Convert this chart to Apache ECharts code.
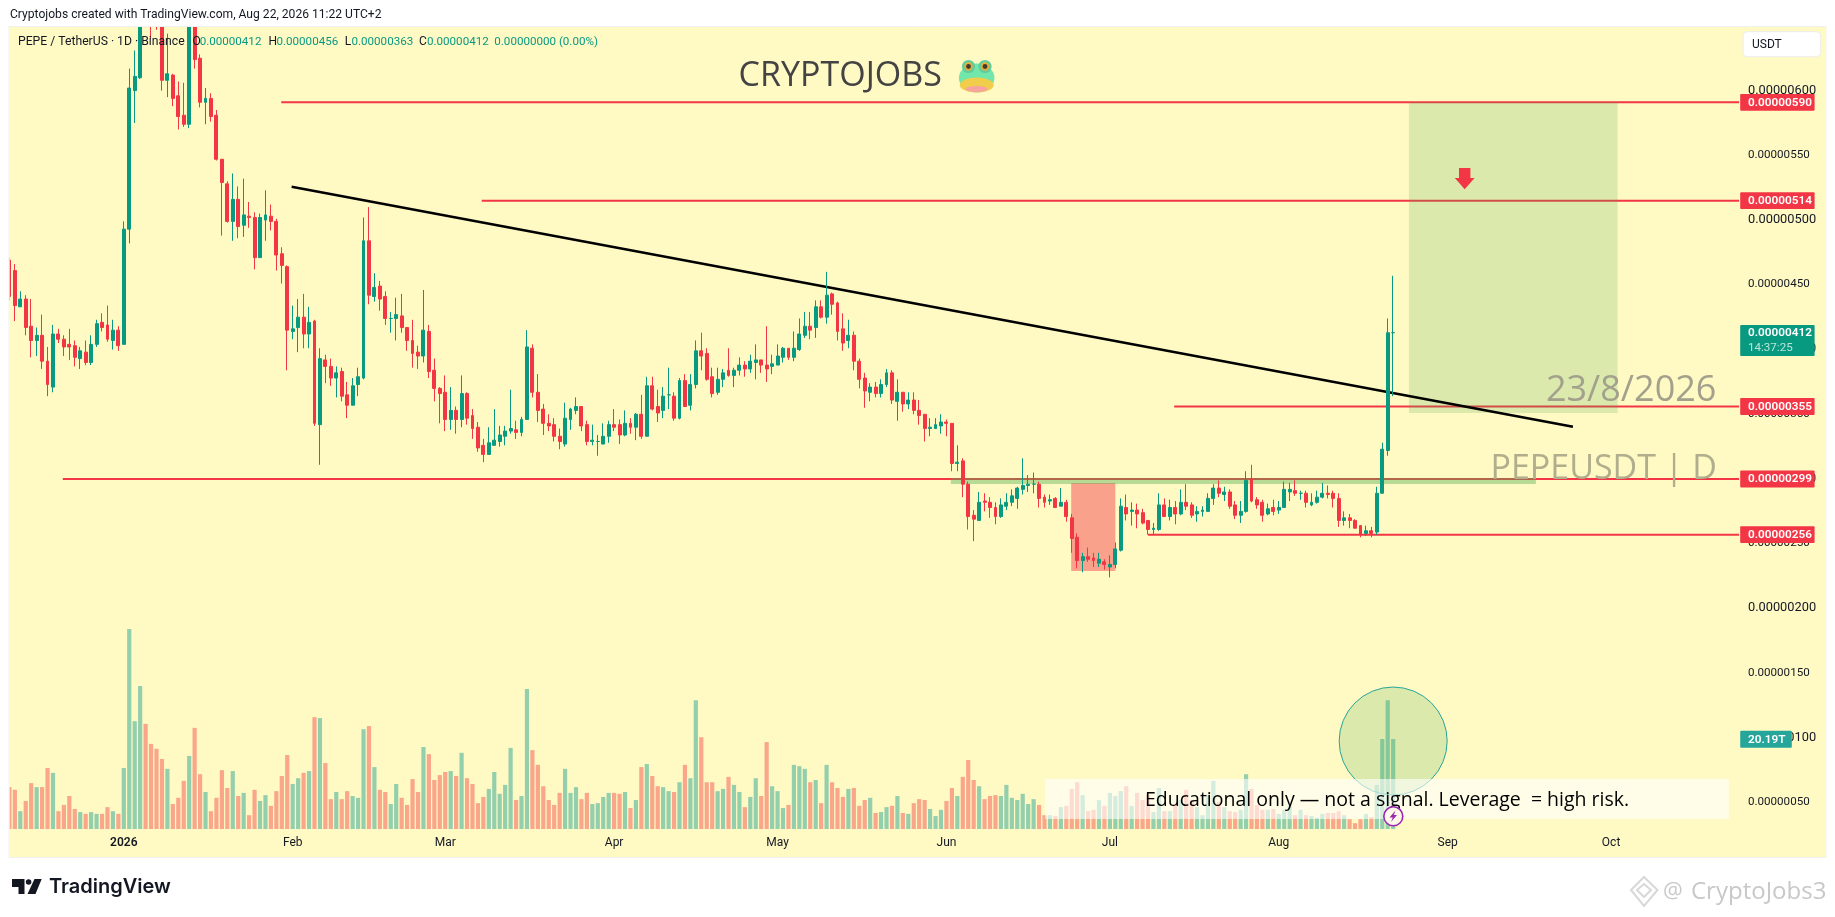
<!DOCTYPE html>
<html><head><meta charset="utf-8">
<script src="https://cdn.jsdelivr.net/npm/echarts@6/dist/echarts.min.js"></script>
<style>html,body{margin:0;padding:0;background:#fff}#c{width:1835px;height:917px}</style>
</head><body><div id="c"></div>
<script>
// Prices are in units of 0.00000001 USDT. First candle = 11 Dec 2025.
const candles = [ // [open, close, low, high]
[468,440,437,470],[460,433,421,465],[432,438,432,444],[438,416,410,441],[417,406,393,438],[406,410,394,416],[410,390,384,426],[390,372,363,401],[370,411,366,418],[411,407,404,415],[407,401,394,410],[403,401,391,415],[402,393,386,406],[392,398,384,401],[397,389,387,406],[389,403,387,410],[403,419,401,422],[420,416,413,427],[418,407,405,433],[406,414,399,422],[414,402,398,417],
[403,492,403,498],[492,601,481,616],[599,610,574,630],[609,660,608,670],[690,665,650,700],[680,655,639,690],[670,655,646,680],[665,607,599,668],[607,612,594,643],[611,593,587,612],[595,579,569,606],[580,573,571,605],[573,665,570,680],[660,623,616,670],[624,590,586,627],[590,593,573,601],[593,579,575,597],[580,546,545,584],[546,528,487,546],[527,498,497,529],[498,515,483,535],[515,494,485,525],[495,503,486,531],[502,501,493,513],[501,470,461,505],
[470,501,470,504],[499,503,483,522],[502,498,491,511],[498,472,460,500],[473,464,450,478],[463,414,383,464],[413,415,407,433],[416,424,397,438],[424,411,400,442],[411,420,400,432],[421,342,340,422],[341,392,310,400],[391,386,373,395],[386,377,371,392],[377,381,362,386],[382,363,359,385],[364,356,346,374],[356,371,356,377],[372,378,363,385],[377,483,376,501],[483,441,434,509],[440,447,436,458],[448,438,429,452],[440,423,418,444],[423,423,412,428],[423,426,406,439],[425,416,412,442],[416,406,398,416],[406,396,385,422],[397,394,384,402],[394,414,389,445],[413,382,377,418],[383,369,359,392],[369,365,342,370],[366,345,336,379],[345,352,337,370],[352,345,334,355],[345,365,339,379],[365,346,341,366],[348,338,330,353],[339,323,320,343],[325,318,312,330],[318,327,318,339],[325,329,325,353],[328,333,324,340],[332,336,325,340],
[336,338,334,368],[337,335,330,344],[335,345,332,347],[345,401,345,414],[400,366,362,403],[366,352,343,380],[353,342,333,357],[342,340,336,349],[341,332,328,346],[332,328,322,338],[326,346,324,358],[345,353,337,354],[352,355,349,362],[355,340,336,355],[341,328,325,344],[328,329,325,341],[328,328,317,333],[326,332,326,342],[332,341,327,344],[341,339,336,353],[341,333,326,345],[333,342,332,352],[342,339,334,346],[339,349,329,350],[349,332,330,364],[332,371,332,378],[371,353,352,378],[355,350,343,368],[352,363,346,370],[364,364,353,385],[363,346,344,366],[346,375,345,377],[375,355,355,380],[356,372,352,380],[372,398,369,406],[398,394,383,412],[396,376,375,400],[378,365,362,385],[366,376,364,385],[376,381,370,384],[383,379,378,400],[379,383,370,385],[383,387,379,393],[387,384,378,390],[384,390,381,395],[389,391,376,403],
[391,387,381,391],[387,384,374,417],[386,388,380,395],[387,394,387,403],[393,400,389,401],[400,393,391,400],[393,400,390,413],[399,411,398,423],[410,417,408,428],[417,414,407,428],[416,432,408,437],[432,424,423,437],[424,441,419,459],[442,434,426,443],[435,413,406,436],[415,404,398,427],[406,410,400,422],[410,390,383,413],[390,376,369,392],[377,367,354,381],[366,370,359,373],[370,365,362,374],[365,372,362,376],[372,381,370,384],[381,360,357,383],[359,366,344,376],[366,357,351,366],[357,360,353,366],[360,352,349,366],[352,348,341,360],[349,338,328,349],[338,339,332,346],[338,341,338,346],[340,343,334,349],[343,342,332,345],[342,311,305,342],[311,312,305,325],[313,295,285,315],[295,270,260,297],[271,268,251,275],[267,281,267,289],[282,281,274,288],[281,277,269,285],[277,270,264,281],[270,279,269,284],[278,281,275,288],[281,286,278,291],[284,292,276,293],
[291,294,287,315],[294,295,289,302],[295,295,288,304],[295,284,277,297],[285,281,277,287],[282,283,279,287],[284,277,277,285],[278,281,278,292],[281,270,266,283],[269,253,242,272],[254,236,230,257],[236,239,227,242],[239,237,235,246],[238,236,231,242],[234,237,231,242],[235,233,229,237],[231,233,223,240],[233,245,230,250],[244,278,243,284],[277,272,267,287],[274,275,263,281],[275,272,261,280],[273,265,264,276],[267,260,256,267],[260,261,256,265],[260,279,259,288],[279,270,270,284],[270,277,267,283],[277,272,264,282],[272,281,271,291],[281,278,275,295],[279,271,269,281],[272,274,266,278],[274,275,270,278],
[274,284,274,288],[284,292,279,295],[292,288,285,298],[287,289,282,293],[289,278,276,291],[279,271,268,282],[271,274,265,282],[274,298,273,305],[299,282,281,310],[283,279,276,285],[281,271,266,283],[272,276,271,280],[277,274,271,283],[275,277,272,282],[277,291,277,297],[289,291,282,296],[290,288,286,298],[288,288,283,290],[288,281,277,290],[279,281,278,288],[281,285,280,290],[285,288,284,296],[288,287,284,294],[288,284,277,290],[284,267,262,288],[267,269,263,274],[269,267,261,272],[267,261,261,268],[263,256,254,263],[257,259,255,263],[259,257,254,262],[258,288,256,293],[288,322,288,327],[321,412,317,423],[412,412,363,456]
];
const volume = [ // trillions of PEPE, one per candle
9.4,8.8,4.0,6.3,10.3,9.4,9.4,13.7,12.6,4.0,5.4,7.4,4.5,3.8,3.4,3.8,3.4,3.4,4.9,4.0,3.4,
13.7,44.9,24.2,32.1,23.6,19.1,18.0,15.7,13.5,5.6,7.0,10.8,16.4,22.7,12.3,8.3,4.0,7.0,13.2,9.2,13.0,7.4,8.1,3.1,8.8,6.3,7.6,5.2,8.5,11.9,16.6,10.1,11.4,12.6,13.0,25.1,24.9,14.8,6.7,8.3,6.7,8.5,7.4,7.0,22.4,23.1,13.9,8.8,8.3,5.6,10.1,7.0,5.4,11.2,8.3,18.4,16.8,11.0,12.1,12.8,13.0,11.9,17.1,11.4,10.1,5.8,7.2,9.0,12.8,7.9,9.9,18.2,6.5,7.4,31.4,17.7,14.4,9.6,6.5,5.4,8.1,13.5,8.1,9.4,6.7,8.1,5.6,5.8,7.2,8.1,8.1,7.9,
8.3,4.7,6.5,13.9,14.6,11.9,9.6,9.4,8.5,8.3,10.5,14.4,11.4,28.9,20.6,10.5,10.5,8.5,9.0,11.7,9.9,8.3,4.9,7.2,11.4,7.4,19.5,9.6,8.5,4.7,5.4,14.4,14.1,13.5,10.5,11.0,5.8,14.4,10.5,9.2,7.2,9.0,9.2,5.2,6.5,7.0,3.6,3.8,4.9,5.2,7.4,3.6,3.4,5.8,6.7,6.5,4.5,2.9,4.3,6.3,9.2,7.4,11.7,15.5,11.0,9.6,6.7,7.4,7.6,7.4,9.9,7.0,6.5,
7.9,5.6,6.7,5.4,3.1,3.1,2.9,4.9,5.2,9.0,10.5,7.6,4.0,4.3,6.5,5.2,8.1,7.4,8.5,9.6,5.2,8.1,6.5,7.6,3.8,9.2,4.0,4.0,5.6,6.5,8.8,6.5,4.9,3.1,7.6,10.8,6.1,4.9,4.0,3.8,4.3,12.3,9.0,5.4,4.3,4.3,4.5,3.4,4.3,5.2,3.1,4.3,3.1,2.9,2.5,3.4,3.6,3.6,4.0,3.1,2.2,1.3,2.2,3.4,2.7,9.9,20.2,28.9,20.19
];
const monthTicks = {0:'2026',31:'Feb',59:'Mar',90:'Apr',120:'May',151:'Jun',181:'Jul',212:'Aug',243:'Sep',273:'Oct'}; // day offset from 1 Jan 2026
const firstDay = -21, lastDay = 312;
const levelLines = [[28.9,590],[65.7,514],[192.8,355],[-11.2,299],[188,256]]; // [start day, price]
const levelEnd = 296.5;
const trendLine = [[30.8,524.8],[266,339.4]];
const priceTags = [[590,'0.00000590'],[514,'0.00000514'],[355,'0.00000355'],[299,'0.00000299'],[256,'0.00000256']];
const lastPrice = [412,'0.00000412','14:37:25'];
const volumeTag = [98,'20.19T']; // drawn at the bar top, on the price scale
const zones = { // [day1, price1, day2, price2, colour]
  salmon:[173.9,296,182,228,'#f9a18b'],
  target:[235.9,590,274.2,350,'rgba(76,175,80,0.2)'],
  band:[151.8,299.8,259.2,295.2,'rgba(76,175,80,0.4)'],
  note:[169.1,67.3,294.6,36.4,'rgba(255,255,255,0.6)']
};
const volumeCircle = [233,96.6];

const UP='#089981', DOWN='#f23645', FONT='Roboto', INK='#131722';
const days=[]; for(let d=firstDay;d<=lastDay;d++) days.push(d);
const cats=days.map(d=>String(d));
const GL=6.68, GR=1835-1826.28;

function zoneSeries(name,z){
  const a=zones[name];
  return {type:'custom',xAxisIndex:2,yAxisIndex:0,z,silent:true,clip:false,data:[a.slice(0,4)],
    renderItem:(p,api)=>{
      const A=api.coord([api.value(0),api.value(1)]),B=api.coord([api.value(2),api.value(3)]);
      return {type:'rect',shape:{x:A[0],y:A[1],width:B[0]-A[0],height:B[1]-A[1]},style:{fill:a[4]}};
    }};
}
const lineSeries=levelLines.map(l=>({type:'line',xAxisIndex:2,yAxisIndex:0,z:2,symbol:'none',silent:true,clip:false,
  lineStyle:{color:DOWN,width:2},data:[[l[0],l[1]],[levelEnd,l[1]]]}));
function tagText(text,x,y,fill,size,w){return {type:'text',style:{text,x,y,fill,font:(w||600)+' '+(size||12)+'px '+FONT,verticalAlign:'middle'}};}

const option={
  animation:false,backgroundColor:'#fff',
  grid:[
    {left:GL,right:GR,top:24.6,height:841.5,show:true,backgroundColor:'#fff9c4',borderWidth:0},
    {left:GL,right:GR,top:600,height:229,show:false}
  ],
  xAxis:[
    {type:'category',gridIndex:0,data:cats,show:false,boundaryGap:true},
    {type:'category',gridIndex:1,data:cats,boundaryGap:true,axisLine:{show:false},axisTick:{show:false},splitLine:{show:false},
      axisLabel:{margin:8,color:INK,fontFamily:FONT,fontSize:12,hideOverlap:false,
        interval:(i,v)=>monthTicks[v]!==undefined,
        formatter:v=>v==='0'?'{y|'+monthTicks[v]+'}':(monthTicks[v]||''),
        rich:{y:{fontSize:12,fontWeight:600,fontFamily:FONT,color:INK}}}},
    {type:'value',gridIndex:0,show:false,min:firstDay-0.5,max:lastDay+0.5,splitLine:{show:false}}
  ],
  yAxis:[
    {type:'value',gridIndex:0,position:'right',min:0,max:650,interval:50,splitLine:{show:false},axisLine:{show:false},axisTick:{show:false},
      axisLabel:{inside:true,margin:78.3,align:'left',showMinLabel:false,showMaxLabel:false,color:INK,fontFamily:FONT,
        formatter:v=>{const s='0.'+String(v).padStart(8,'0');return v%100===0?'{w|'+s+'}':'{n|'+s+'}';},
        rich:{w:{fontSize:12.8,fontFamily:FONT,color:INK,padding:[2,0,0,0]},n:{fontSize:11.6,fontFamily:FONT,color:INK,padding:[2,0,0,0]}}}},
    {type:'value',gridIndex:1,min:0,max:51.4,show:false,splitLine:{show:false}}
  ],
  series:[
    zoneSeries('salmon',2),
    ...lineSeries,
    zoneSeries('target',3),
    zoneSeries('band',3),
    {type:'line',xAxisIndex:2,yAxisIndex:0,z:4,symbol:'none',silent:true,clip:false,lineStyle:{color:'#000',width:2.5},data:trendLine},
    {type:'bar',xAxisIndex:1,yAxisIndex:1,z:5,barWidth:4.2,silent:true,
      data:volume.map((v,i)=>({value:v,itemStyle:{color:candles[i][1]>=candles[i][0]?'#94cfad':'#f9a68a'}}))},
    {type:'candlestick',xAxisIndex:0,yAxisIndex:0,z:6,barWidth:3.4,silent:true,data:candles,
      itemStyle:{color:UP,color0:DOWN,borderColor:UP,borderColor0:DOWN,borderColorDoji:UP,borderWidth:1}},
    {type:'custom',xAxisIndex:2,yAxisIndex:0,z:7,silent:true,clip:false,data:[volumeCircle],
      renderItem:(p,api)=>{const c=api.coord([api.value(0),api.value(1)]);
        return {type:'circle',shape:{cx:c[0],cy:c[1],r:54},style:{fill:'rgba(76,175,80,0.2)',stroke:'#26a69a',lineWidth:1}};}},
    zoneSeries('note',8),
    {type:'custom',xAxisIndex:2,yAxisIndex:0,z:9,silent:true,clip:false,data:priceTags.map(t=>[0,t[0]]),
      renderItem:(p,api)=>{const y=api.coord([0,api.value(1)])[1];
        return {type:'group',children:[
          {type:'rect',shape:{x:1740.2,y:y-8.4,width:74.4,height:16.8,r:1},style:{fill:DOWN}},
          tagText(priceTags[p.dataIndex][1],1748,y+0.5,'#fff',11.8)]};}},
    {type:'custom',xAxisIndex:2,yAxisIndex:0,z:9,silent:true,clip:false,data:[[0,lastPrice[0]]],
      renderItem:(p,api)=>{const y=api.coord([0,api.value(1)])[1];
        return {type:'group',children:[
          {type:'rect',shape:{x:1740.2,y:y-7.7,width:74.4,height:31,r:1},style:{fill:UP}},
          tagText(lastPrice[1],1748,y+0.5,'#fff',11.8),
          tagText(lastPrice[2],1748,y+15,'#b9e6d8',11.6,400)]};}},
    {type:'custom',xAxisIndex:2,yAxisIndex:0,z:9,silent:true,clip:false,data:[[0,volumeTag[0]]],
      renderItem:(p,api)=>{const y=api.coord([0,api.value(1)])[1];
        return {type:'group',children:[
          {type:'rect',shape:{x:1740.2,y:y-8.4,width:51.6,height:16.8,r:1},style:{fill:'#26a69a'}},
          tagText(volumeTag[1],1748,y+0.5,'#fff',11.8)]};}}
  ],
  graphic:{elements:[
    {type:'rect',z:100,silent:true,shape:{x:0,y:0,width:9.5,height:917},style:{fill:'#fff'}},
    {type:'rect',z:100,silent:true,shape:{x:0,y:0,width:1835,height:26.5},style:{fill:'#fff'}},
    {type:'rect',z:100,silent:true,shape:{x:0,y:857.5,width:1835,height:60},style:{fill:'#fff'}},
    {type:'rect',z:100,silent:true,shape:{x:1825.8,y:0,width:10,height:917},style:{fill:'#fff'}},
    {type:'rect',z:101,silent:true,shape:{x:9,y:26.5,width:1817,height:831},style:{fill:'none',stroke:'#f0f0f0',lineWidth:1}},
    // header
    {type:'text',z:102,style:{text:'Cryptojobs created with TradingView.com, Aug 22, 2026 11:22 UTC+2',x:10,y:15,fill:INK,font:'12.1px '+FONT,verticalAlign:'middle'}},
    // legend
    {type:'text',z:102,style:{text:'PEPE / TetherUS · 1D · Binance',x:18,y:41.7,fill:INK,font:'12.2px '+FONT,verticalAlign:'middle'}},
    {type:'text',z:102,style:{text:'O',x:192.6,y:41.7,fill:INK,font:'12px '+FONT,verticalAlign:'middle'}},
    {type:'text',z:102,style:{text:'0.00000412',x:199.7,y:41.7,fill:UP,font:'11.6px '+FONT,verticalAlign:'middle'}},
    {type:'text',z:102,style:{text:'H',x:268.5,y:41.7,fill:INK,font:'12px '+FONT,verticalAlign:'middle'}},
    {type:'text',z:102,style:{text:'0.00000456',x:276.5,y:41.7,fill:UP,font:'11.6px '+FONT,verticalAlign:'middle'}},
    {type:'text',z:102,style:{text:'L',x:344.8,y:41.7,fill:INK,font:'12px '+FONT,verticalAlign:'middle'}},
    {type:'text',z:102,style:{text:'0.00000363',x:351.5,y:41.7,fill:UP,font:'11.6px '+FONT,verticalAlign:'middle'}},
    {type:'text',z:102,style:{text:'C',x:419,y:41.7,fill:INK,font:'12px '+FONT,verticalAlign:'middle'}},
    {type:'text',z:102,style:{text:'0.00000412',x:427,y:41.7,fill:UP,font:'11.6px '+FONT,verticalAlign:'middle'}},
    {type:'text',z:102,style:{text:'0.00000000 (0.00%)',x:494.3,y:41.7,fill:UP,font:'11.6px '+FONT,verticalAlign:'middle'}},
    // currency box
    {type:'rect',z:102,shape:{x:1743,y:31.7,width:77.6,height:25,r:4},style:{fill:'#fff',stroke:'#ececec',lineWidth:1}},
    {type:'text',z:103,style:{text:'USDT',x:1752,y:44.7,fill:INK,font:'12px '+FONT,verticalAlign:'middle'}},
    // annotations
    {type:'text',z:102,style:{text:'CRYPTOJOBS',x:738.6,y:76,fill:'#434343',font:'34px "Open Sans"',verticalAlign:'middle'}},
    {type:'text',z:102,style:{text:'23/8/2026',x:1545.9,y:391,fill:'#a3a18c',font:'36px "Open Sans"',verticalAlign:'middle'}},
    {type:'text',z:102,style:{text:'PEPEUSDT | D',x:1490.5,y:469,fill:'#b0ae8c',font:'34px "Open Sans"',verticalAlign:'middle'}},
    {type:'text',z:102,style:{text:'Educational only — not a signal. Leverage  = high risk.',x:1145,y:800,fill:'#000',font:'19.5px "Open Sans"',verticalAlign:'middle'}},
    // frog
    {type:'ellipse',z:102,shape:{cx:976.7,cy:78,rx:17.8,ry:14.5},style:{fill:'#72e6ab'}},
    {type:'ellipse',z:103,shape:{cx:976.7,cy:85,rx:17,ry:7.5},style:{fill:'#f1cd4c'}},
    {type:'ellipse',z:104,shape:{cx:976.7,cy:89,rx:11,ry:3},style:{fill:'#f7a3a0'}},
    {type:'circle',z:103,shape:{cx:968.5,cy:66.5,r:6.6},style:{fill:'#62cc9e'}},
    {type:'circle',z:103,shape:{cx:985,cy:66.5,r:6.6},style:{fill:'#62cc9e'}},
    {type:'circle',z:104,shape:{cx:968.5,cy:66.5,r:4.2},style:{fill:'#e5ae3a'}},
    {type:'circle',z:104,shape:{cx:985,cy:66.5,r:4.2},style:{fill:'#e5ae3a'}},
    {type:'circle',z:105,shape:{cx:968.5,cy:66.5,r:2.4},style:{fill:'#473a2c'}},
    {type:'circle',z:105,shape:{cx:985,cy:66.5,r:2.4},style:{fill:'#473a2c'}},
    // arrow
    {type:'polygon',z:102,shape:{points:[[1459,168],[1470.4,168],[1470.4,178],[1474.6,178],[1464.7,189.3],[1454.8,178],[1459,178]]},style:{fill:DOWN}},
    // lightning badge
    {type:'circle',z:110,shape:{cx:1393.3,cy:816.3,r:9.5},style:{fill:'#fdf8e8',stroke:'#9c27b0',lineWidth:1.6}},
    {type:'polygon',z:111,shape:{points:[[1395.5,810.5],[1389.5,817.5],[1392.8,817.5],[1391,822],[1397,815],[1393.8,815]]},style:{fill:'#9c27b0'}},
    // TradingView logo
    {type:'polygon',z:102,shape:{points:[[12,879],[24.5,879],[24.5,894],[18.5,894],[18.5,887],[12,887]]},style:{fill:'#131722'}},
    {type:'circle',z:102,shape:{cx:28.6,cy:882,r:2.8},style:{fill:'#131722'}},
    {type:'polygon',z:102,shape:{points:[[34.5,879],[41.7,879],[35.5,894],[27.5,894]]},style:{fill:'#131722'}},
    {type:'text',z:102,style:{text:'TradingView',x:49,y:887,fill:'#131722',font:'600 20px Inter',verticalAlign:'middle'}},
    // watermark
    {type:'polygon',z:102,shape:{points:[[1644,877],[1657.5,890],[1644,906],[1631,890]]},style:{fill:'none',stroke:'#d8d8d8',lineWidth:2}},
    {type:'polygon',z:102,shape:{points:[[1644,884],[1651,890],[1644,897],[1637,890]]},style:{fill:'none',stroke:'#d8d8d8',lineWidth:2}},
    {type:'text',z:102,style:{text:'@',x:1663,y:892,fill:'#c8c8c8',font:'22px "Open Sans"',verticalAlign:'middle'}},
    {type:'text',z:102,style:{text:'CryptoJobs3',x:1691,y:892,fill:'#c8c8c8',font:'24px "Open Sans"',verticalAlign:'middle'}}
  ]}
};
echarts.init(document.getElementById('c'),null,{renderer:'canvas'}).setOption(option);
</script>
</body></html>
